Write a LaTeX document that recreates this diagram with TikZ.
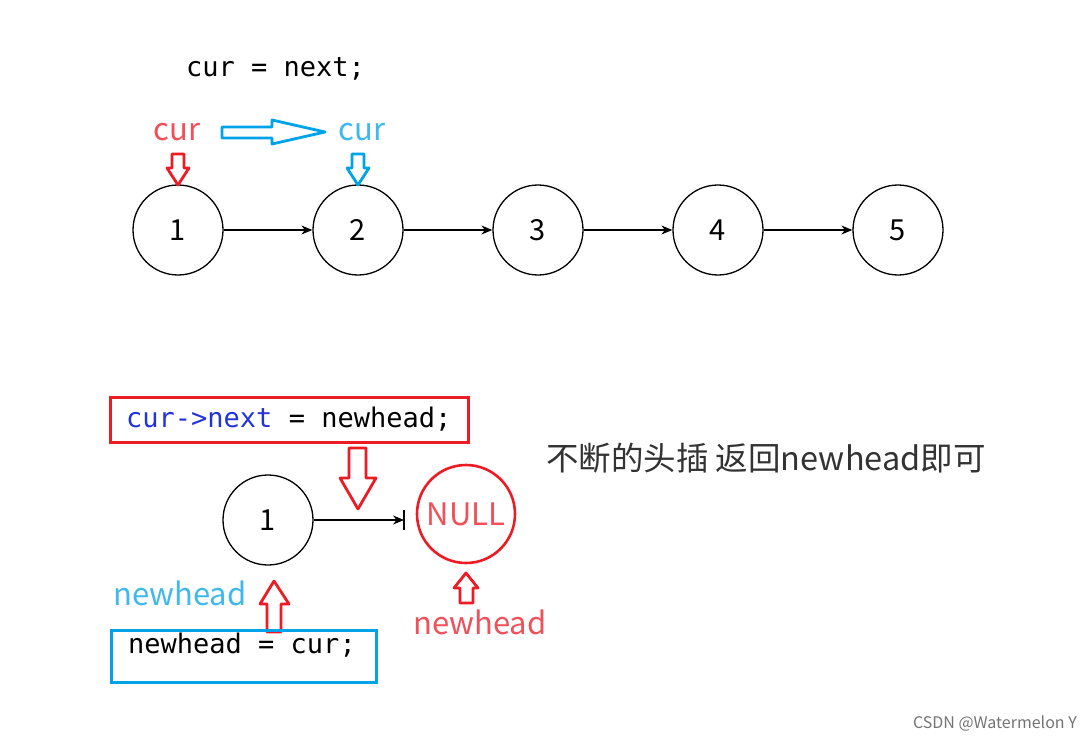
\documentclass[tikz,border=0pt]{standalone}
\usepackage{fontspec}
\setmainfont{Noto Sans CJK SC}
\newfontfamily\monof{DejaVu Sans Mono}
\newfontfamily\cjk{Noto Sans CJK SC}
\usetikzlibrary{arrows.meta}
\definecolor{myred}{HTML}{ED1C24}
\definecolor{myblue}{HTML}{00A2E8}
\definecolor{lred}{HTML}{F0505A}
\definecolor{lblue}{HTML}{3FB8EC}
\definecolor{kblue}{HTML}{2233DD}
\begin{document}
\begin{tikzpicture}[x=1pt,y=-1pt,
  nd/.style={circle,draw,line width=1.3pt,minimum size=90pt,inner sep=0pt,font=\fontsize{29}{30}\selectfont},
  lnk/.style={line width=1.1pt,-{Stealth[length=11pt,width=9pt]}},
  barr/.style={line width=2.8pt,line join=round},
  code/.style={font=\monof\fontsize{27}{30}\selectfont,anchor=west,inner sep=0pt},
  lab/.style={font=\fontsize{31}{33}\selectfont,inner sep=0pt}]
\useasboundingbox (0,0) rectangle (1092,741);
\node[code] (c0) at (186,69) {cur = next;};
\node[lab,text=lred] (l1) at (177,132) {cur};
\node[lab,text=lblue] (l2) at (362,132) {cur};
\foreach \i/\x in {1/178,2/358,3/538,4/718,5/898}{\node[nd] (n\i) at (\x,230) {\i};}
\foreach \a/\b in {1/2,2/3,3/4,4/5}{\draw[lnk] (n\a) -- (n\b);}
\draw[barr,myblue] (222,127) -- (272,127) -- (272,120) -- (325,132) -- (272,144) -- (272,138) -- (222,138) -- cycle;
\draw[barr,myred] (172,154) -- (184,154) -- (184,168) -- (189,168) -- (178,185) -- (167,168) -- (172,168) -- cycle;
\draw[barr,myblue] (352,154) -- (364,154) -- (364,168) -- (369,168) -- (358,185) -- (347,168) -- (352,168) -- cycle;
\node[draw=myred,line width=3pt,minimum width=358pt,minimum height=45pt,anchor=north west,inner sep=0pt] (rb) at (109,396) {};
\node[code] (c1) at (126,419) {\textcolor{kblue}{cur->next} = newhead;};
\draw[barr,myred] (349,448) -- (366,448) -- (366,478) -- (376,478) -- (358,509) -- (340,478) -- (349,478) -- cycle;
\node[nd] (m1) at (268,520) {1};
\node[nd,draw=myred,line width=2.6pt,minimum size=98pt,text=lred,font=\fontsize{31}{33}\selectfont] (nul) at (466,514) {NULL};
\coordinate (e) at (404,520);
\draw[lnk] (m1) -- (e);
\draw[line width=1.1pt] (404,510) -- (404,530);
\draw[barr,myred] (460,603) -- (473,603) -- (473,588) -- (478,588) -- (466,573) -- (454,588) -- (460,588) -- cycle;
\node[lab,text=lred] (l3) at (480,622) {newhead};
\node[lab,text=lblue] (l4) at (180,593) {newhead};
\draw[barr,myred] (267,632) -- (281,632) -- (281,604) -- (289,604) -- (274,581) -- (260,604) -- (267,604) -- cycle;
\node[draw=myblue,line width=3pt,minimum width=265pt,minimum height=52pt,anchor=north west,inner sep=0pt] (bb) at (110,629) {};
\node[code] (c2) at (128,645) {newhead = cur;};
\node[font=\cjk\fontsize{32.5}{35}\selectfont,anchor=west,inner sep=0pt,text=black!80] (t) at (546,458) {不断的头插 返回newhead即可};
\node[font=\fontsize{16}{18}\selectfont,anchor=east,inner sep=0pt,text=black!55] (w) at (1077,724) {CSDN @Watermelon Y};
\end{tikzpicture}
\end{document}
